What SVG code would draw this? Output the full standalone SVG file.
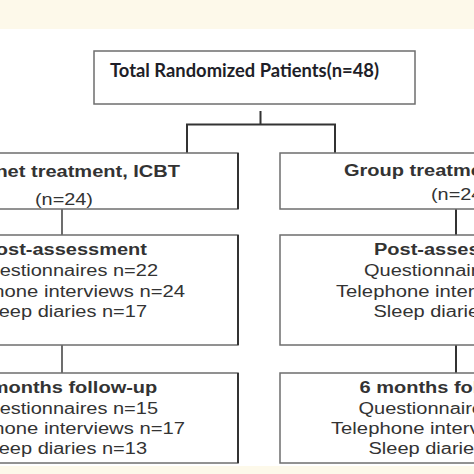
<svg xmlns="http://www.w3.org/2000/svg" width="474" height="474" viewBox="0 0 474 474">
  <style>
    .box { fill: #ffffff; stroke: #6e6e6e; stroke-width: 1.5; }
    .edge { stroke: #333333; stroke-width: 2; fill: none; }
    .t { font-family: "Liberation Sans", Arial, sans-serif; font-size: 16px; fill: #333333; }
    .b { font-weight: bold; }
    .title { font-family: Lato, "Liberation Sans", sans-serif; font-weight: bold; font-size: 18px; fill: #1e1e28; }
    .conn { stroke: #333333; stroke-width: 2; fill: none; }
    .conn2 { stroke: #4a4a4a; stroke-width: 1.6; fill: none; }
  </style>
  <rect x="0" y="0" width="474" height="474" fill="#ffffff"/>
  <rect x="0" y="0" width="474" height="29" fill="#fdf9ea"/>
  <rect x="0" y="466" width="474" height="8" fill="#fdf9ea"/>

  <g id="connectors">
    <path class="conn" d="M260.5 111 V124.5 M187 124.5 H335 M187 123.5 V153 M335 123.5 V153"/>
    <path class="conn2" d="M62 209 V235 M62 345 V373"/>
    <path class="conn" d="M456 209 V235 M456 345 V373"/>
  </g>

  <g id="total">
    <rect class="box" x="94" y="51" width="321" height="53"/>
    <text class="title" x="110" y="77" textLength="269" lengthAdjust="spacingAndGlyphs">Total Randomized Patients(n=48)</text>
  </g>

  <g id="icbt">
    <rect class="box" x="-120" y="153" width="358" height="56"/>
    <path class="edge" d="M238 153 V209"/>
    <text class="t b" x="-48" y="176.5" textLength="228" lengthAdjust="spacingAndGlyphs">Internet treatment, ICBT</text>
    <text class="t" x="35" y="205" textLength="58" lengthAdjust="spacingAndGlyphs">(n=24)</text>
  </g>

  <g id="group">
    <rect class="box" x="280" y="153" width="320" height="56"/>
    <text class="t b" x="344" y="176" textLength="156.7" lengthAdjust="spacingAndGlyphs">Group treatment</text>
    <text class="t" x="431" y="199.5" textLength="58" lengthAdjust="spacingAndGlyphs">(n=24)</text>
  </g>

  <g id="icbt-post">
    <rect class="box" x="-120" y="235" width="358" height="110"/>
    <path class="edge" d="M238 235 V345"/>
    <text class="t b" x="-17.5" y="255" textLength="164.5" lengthAdjust="spacingAndGlyphs">Post-assessment</text>
    <text class="t" x="-27" y="276" textLength="185" lengthAdjust="spacingAndGlyphs">Questionnaires n=22</text>
    <text class="t" x="-55" y="297" textLength="240" lengthAdjust="spacingAndGlyphs">Telephone interviews n=24</text>
    <text class="t" x="-19" y="317" textLength="166" lengthAdjust="spacingAndGlyphs">Sleep diaries n=17</text>
  </g>

  <g id="group-post">
    <rect class="box" x="280" y="235" width="320" height="110"/>
    <text class="t b" x="374" y="255" textLength="164.5" lengthAdjust="spacingAndGlyphs">Post-assessment</text>
    <text class="t" x="364" y="276" textLength="134.5" lengthAdjust="spacingAndGlyphs">Questionnaires</text>
    <text class="t" x="336" y="297" textLength="189" lengthAdjust="spacingAndGlyphs">Telephone interviews</text>
    <text class="t" x="373.5" y="317" textLength="115.6" lengthAdjust="spacingAndGlyphs">Sleep diaries</text>
  </g>

  <g id="icbt-follow">
    <rect class="box" x="-120" y="373" width="358" height="90"/>
    <path class="edge" d="M238 373 V463"/>
    <text class="t b" x="-26" y="393" textLength="183.3" lengthAdjust="spacingAndGlyphs">6 months follow-up</text>
    <text class="t" x="-27" y="414" textLength="185" lengthAdjust="spacingAndGlyphs">Questionnaires n=15</text>
    <text class="t" x="-55" y="434" textLength="240" lengthAdjust="spacingAndGlyphs">Telephone interviews n=17</text>
    <text class="t" x="-19" y="454" textLength="166" lengthAdjust="spacingAndGlyphs">Sleep diaries n=13</text>
  </g>

  <g id="group-follow">
    <rect class="box" x="280" y="373" width="320" height="90"/>
    <text class="t b" x="359.5" y="393" textLength="183.3" lengthAdjust="spacingAndGlyphs">6 months follow-up</text>
    <text class="t" x="358.5" y="414" textLength="134.5" lengthAdjust="spacingAndGlyphs">Questionnaires</text>
    <text class="t" x="331" y="434" textLength="189" lengthAdjust="spacingAndGlyphs">Telephone interviews</text>
    <text class="t" x="368.5" y="454" textLength="115.6" lengthAdjust="spacingAndGlyphs">Sleep diaries</text>
  </g>
</svg>
